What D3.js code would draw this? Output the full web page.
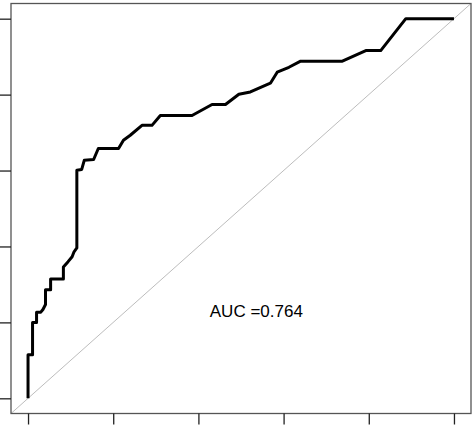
<!DOCTYPE html>
<html>
<head>
<meta charset="utf-8">
<script src="https://cdn.jsdelivr.net/npm/d3@7"></script>
<style>
  body { margin: 0; background: #fff; }
  svg { display: block; }
  .roc-line { fill: none; stroke: #000; stroke-width: 3; stroke-linejoin: round; }
  .ref-line { stroke: #bdbdbd; stroke-width: 1; }
  .frame { fill: none; stroke: #555; stroke-width: 1.3; }
  .tick line { stroke: #222; stroke-width: 1.3; }
</style>
</head>
<body>
<svg id="roc" width="474" height="425"></svg>
<script>
// ROC curve points (false positive rate, true positive rate)
const fpr = [0, 0, 0.0106, 0.0106, 0.020, 0.020, 0.030, 0.035, 0.041, 0.041, 0.053, 0.053,
  0.083, 0.083, 0.094, 0.1035, 0.108, 0.1146, 0.1146, 0.126, 0.132, 0.154, 0.165, 0.2125,
  0.224, 0.240, 0.2675, 0.291, 0.3106, 0.385, 0.432, 0.4635, 0.495, 0.522, 0.569, 0.585,
  0.6125, 0.640, 0.738, 0.793, 0.828, 0.887, 1.0];
const tpr = [0, 0.115, 0.115, 0.200, 0.200, 0.227, 0.227, 0.234, 0.247, 0.286, 0.286, 0.314,
  0.314, 0.346, 0.360, 0.373, 0.386, 0.396, 0.601, 0.603, 0.627, 0.629, 0.658, 0.658,
  0.680, 0.693, 0.719, 0.719, 0.745, 0.745, 0.774, 0.774, 0.801, 0.807, 0.830, 0.859,
  0.872, 0.888, 0.888, 0.916, 0.916, 1.0, 1.0];

const xTicks = [0, 0.2, 0.4, 0.6, 0.8, 1.0];
const yTicks = [0, 0.2, 0.4, 0.6, 0.8, 1.0];
const aucLabel = "AUC =0.764";

const data = fpr.map((d, i) => ({ x: d, y: tpr[i] }));

const svg = d3.select("#roc");

// plot region (R style: data range padded by 4% each side)
const box = { left: 11, right: 471, top: 3.5, bottom: 413.5 };

const xScale = d3.scaleLinear().domain([-0.04, 1.04]).range([box.left, box.right]);
const yScale = d3.scaleLinear().domain([-0.04, 1.04]).range([box.bottom, box.top]);

// reference diagonal across the whole region
svg.append("line")
  .attr("class", "ref-line")
  .attr("x1", xScale(-0.04)).attr("y1", yScale(-0.04))
  .attr("x2", xScale(1.04)).attr("y2", yScale(1.04));

// ROC curve
const line = d3.line()
  .x(d => xScale(d.x))
  .y(d => yScale(d.y));

svg.append("path")
  .attr("class", "roc-line")
  .attr("d", line(data));

// frame
svg.append("rect")
  .attr("class", "frame")
  .attr("x", box.left).attr("y", box.top)
  .attr("width", box.right - box.left).attr("height", box.bottom - box.top);

// axes, ticks only (labels fall outside the picture)
const xAxis = d3.axisBottom(xScale).tickValues(xTicks).tickSize(11).tickFormat("");
const yAxis = d3.axisLeft(yScale).tickValues(yTicks).tickSize(11).tickFormat("");

const xAxisG = svg.append("g")
  .attr("transform", `translate(0,${box.bottom})`)
  .call(xAxis);
xAxisG.select(".domain").remove();

const yAxisG = svg.append("g")
  .attr("transform", `translate(${box.left},0)`)
  .call(yAxis);
yAxisG.select(".domain").remove();

// AUC annotation
svg.append("text")
  .attr("x", xScale(0.536))
  .attr("y", yScale(0.213))
  .attr("text-anchor", "middle")
  .attr("font-family", "Liberation Sans, Arial, sans-serif")
  .attr("font-size", 17)
  .attr("fill", "#000")
  .text(aucLabel);
</script>
</body>
</html>
